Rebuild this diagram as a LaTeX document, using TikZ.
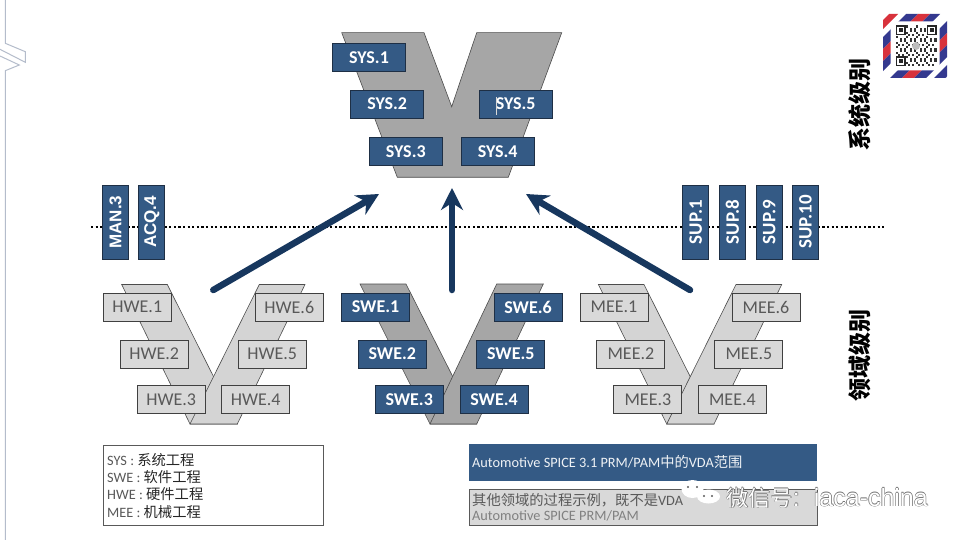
\documentclass[tikz,border=0pt]{standalone}
\usepackage{fontspec}
\setmainfont{Carlito}
\newfontfamily\cjk{Noto Sans CJK SC}
\newfontfamily\arialfont{Liberation Sans}
\usetikzlibrary{arrows.meta}

\definecolor{boxblue}{HTML}{345A85}
\definecolor{boxedge}{HTML}{1E2F45}
\definecolor{arrowblue}{HTML}{17375E}
\definecolor{vgray}{HTML}{A6A6A6}
\definecolor{vlight}{HTML}{D4D4D4}
\definecolor{boxlight}{HTML}{D9D9D9}
\definecolor{labelgray}{HTML}{595959}
\definecolor{edgegray}{HTML}{B4BCCB}
\definecolor{stampred}{HTML}{D8323C}
\definecolor{stampblue}{HTML}{34398F}

\begin{document}
\begin{tikzpicture}[x=1pt, y=-1pt]
    \tikzset{
        bluebox/.style={draw=boxedge, fill=boxblue, text=white, line width=0.9pt, inner sep=0pt,
            minimum height=28pt, font=\fontsize{18}{18}\selectfont\bfseries},
        graybox/.style={draw=black!75, fill=boxlight, text=labelgray, line width=0.9pt, inner sep=0pt,
            minimum width=68pt, minimum height=28pt, font=\fontsize{18}{18}\selectfont},
        upbox/.style={bluebox, minimum width=74pt, minimum height=26pt, rotate=90, font=\fontsize{19}{19}\selectfont\bfseries},
        bigarrow/.style={arrowblue, line width=6.5pt, line cap=round, -{Stealth[length=22pt, width=22pt]}},
        vshape/.style={draw=black!70, line width=0.6pt},
        sidelabel/.style={rotate=90, font=\fontsize{23}{23}\selectfont\cjk\bfseries},
        legendtext/.style={anchor=west, inner sep=0pt, text=labelgray, font=\fontsize{14.3}{14.3}\selectfont},
        wmark/.style={anchor=west, inner sep=0pt, font=\fontsize{25}{25}\selectfont\arialfont}
    }
    \useasboundingbox (0,0) rectangle (960,540);
    \fill[white] (0,0) rectangle (960,540);

    % left corner ornament
    \draw[edgegray, line width=1pt] (5.3,0) -- (5.3,43.3) -- (25.3,51.7) -- (25.3,62.3) -- (0,49.3);
    \draw[edgegray, line width=1pt] (0,56) -- (19.3,65) -- (5.3,70.7) -- (5.3,540);

    % dotted level line
    \coordinate (dotL) at (91,227.3);
    \coordinate (dotR) at (885,227.3);
    \draw[line width=2pt, dash pattern=on 2.2pt off 2.4pt] (dotL) -- (dotR);

    % system V
    \draw[vshape, fill=vgray] (341.7,32.7) -- (424,32.7) -- (451.7,106.7) -- (476.7,32.7) -- (561.7,32.7)
        -- (508.3,177.3) -- (397.3,177.3) -- cycle;
    \foreach \i/\cx/\cy in {1/369/57.5, 2/387.2/104, 3/405.8/151.5, 4/497.7/151.5, 5/515.7/104}
        \node[bluebox, minimum width=73pt] (sys\i) at (\cx,\cy) {SYS.\i};
    \coordinate (cursorT) at (496.7,97);
    \coordinate (cursorB) at (496.7,115);
    \draw[white!70!gray, line width=0.5pt] (cursorT) -- (cursorB);

    % software V
    \draw[vshape, fill=vgray] (360,284) -- (406,284) -- (476.7,424) -- (430,424) -- cycle;
    \draw[vshape, fill=vgray] (496.7,284) -- (543.3,284) -- (476.7,424) -- (430,424) -- cycle;
    \foreach \i/\cx/\cy in {1/375.5/307, 2/392.3/354, 3/409.2/399.3, 4/494/399.3, 5/510.8/354, 6/528/307}
        \node[bluebox, minimum width=68pt] (swe\i) at (\cx,\cy) {SWE.\i};

    % hardware and mechanical V
    \foreach \pre/\tag/\dx in {hwe/HWE/0, mee/MEE/476.7} {
        \draw[vshape, fill=vlight] (121.7+\dx,284.5) -- (167.3+\dx,284.5) -- (237.3+\dx,424) -- (190+\dx,424) -- cycle;
        \draw[vshape, fill=vlight] (259.3+\dx,284.5) -- (305+\dx,284.5) -- (237.3+\dx,424) -- (190+\dx,424) -- cycle;
        \foreach \i/\cx/\cy in {1/137.3/307.2, 2/154.2/354, 3/171.2/399.3, 4/255.7/399.3, 5/272.2/354, 6/289.3/307.2}
            \node[graybox] (\pre\i) at (\cx+\dx,\cy) {\tag.\i};
    }

    % process columns
    \node[upbox, font=\fontsize{17}{17}\selectfont\arialfont\bfseries] (man3) at (115.5,222) {MAN.3};
    \node[upbox, font=\fontsize{17}{17}\selectfont\arialfont\bfseries] (acq4) at (151.8,222) {ACQ.4};
    \node[upbox] (sup1) at (695.7,222) {SUP.1};
    \node[upbox] (sup8) at (732.3,222) {SUP.8};
    \node[upbox] (sup9) at (769.2,222) {SUP.9};
    \node[upbox] (sup10) at (805.5,222) {SUP.10};

    % arrows into the system V
    \coordinate (hweOut) at (213.3,290);
    \coordinate (sweOut) at (452,290);
    \coordinate (meeOut) at (690,290);
    \coordinate (sysInL) at (379,194);
    \coordinate (sysInM) at (452,188);
    \coordinate (sysInR) at (526,194);
    \draw[bigarrow] (hweOut) -- (sysInL);
    \draw[bigarrow] (sweOut) -- (sysInM);
    \draw[bigarrow] (meeOut) -- (sysInR);

    % side labels
    \node[sidelabel] (levelSys) at (860,105) {系统级别};
    \node[sidelabel] (levelDom) at (860,355) {领域级别};

    % legend
    \node[draw=black!65, line width=0.9pt, minimum width=219.6pt, minimum height=80.7pt, inner sep=0pt] (legend) at (213.5,485.3) {};
    \node[legendtext] (legSys) at (107,460) {SYS : {\cjk\color{black!85}系统工程}};
    \node[legendtext] (legSwe) at (107,477.3) {SWE : {\cjk\color{black!85}软件工程}};
    \node[legendtext] (legHwe) at (107,494.3) {HWE : {\cjk\color{black!85}硬件工程}};
    \node[legendtext] (legMee) at (107,511.7) {MEE : {\cjk\color{black!85}机械工程}};

    \node[fill=boxblue, minimum width=348pt, minimum height=36.7pt, inner sep=0pt] (vdaBox) at (643.3,462.3) {};
    \node[legendtext, text=white!92!boxblue] (vdaText) at (472,462.5) {Automotive SPICE 3.1 PRM/PAM{\cjk 中的}VDA{\cjk 范围}};
    \node[draw=black!65, fill=boxlight, line width=0.9pt, minimum width=348pt, minimum height=36.7pt, inner sep=0pt] (otherBox) at (643.3,507.3) {};
    \node[legendtext] (otherA) at (472,500) {{\cjk 其他领域的过程示例，既不是}VDA};
    \node[legendtext, text=black!50] (otherB) at (472,515.5) {Automotive SPICE PRM/PAM};

    % watermark
    \fill[white] (692.5,489) ellipse (11pt and 9pt);
    \fill[white] (708.5,496.5) ellipse (11.5pt and 7pt);
    \foreach \dotx/\doty in {688/487, 697/487, 704/496, 712/496}
        \fill[labelgray] (\dotx,\doty) circle (1.1pt);
    \foreach \k/\ox/\oy in {1/-0.6/0, 2/0.6/0, 3/0/-0.6, 4/0/0.6}
        \node[wmark, text=black!55] (wmarkB\k) at (726.7+\ox,498+\oy) {{\fontsize{22}{22}\selectfont\cjk 微信号}:\hspace{14pt}iaca-china};
    \node[wmark, text=white] (wmarkA) at (726.7,498) {{\fontsize{22}{22}\selectfont\cjk 微信号}:\hspace{14pt}iaca-china};

    % stamp with code
    \begin{scope}
        \clip[rounded corners=2pt] (883,14) rectangle (947,78);
        \foreach \sa/\sb/\col in {903/912/stampred, 920/932/stampblue, 932/944/stampred, 944/954/stampblue,
                968/980/stampblue, 980/992/stampred, 992/1004/stampblue, 1012/1025/stampblue}
            \fill[\col] (\sa-14,14) -- (\sb-14,14) -- (\sb-78,78) -- (\sa-78,78) -- cycle;
    \end{scope}
    \fill[white, rounded corners=2pt] (890.5,21.5) rectangle (939.5,70.5);
    \foreach \qx in {0,...,19} \foreach \qy in {0,...,19} {
        \pgfmathtruncatemacro{\qon}{mod(\qx*\qx*\qx+\qy*\qy*3+\qx*\qy*5+\qx*2+\qy,5)}
        \pgfmathtruncatemacro{\qskip}{(\qx<5 && \qy<5) || (\qx>14 && \qy<5) || (\qx<5 && \qy>14)}
        \ifnum\qskip=0 \ifnum\qon<2 \fill[black!80] (895.5+\qx*2.05,25.5+\qy*2.05) rectangle +(2.05,2.05); \fi \fi
    }
    \foreach \cx/\cy in {895.5/25.5, 926.5/25.5, 895.5/56.5} {
        \draw[black!85, line width=1.2pt] (\cx+0.6,\cy+0.6) rectangle (\cx+9.4,\cy+9.4);
        \fill[black!85] (\cx+3,\cy+3) rectangle (\cx+7,\cy+7);
    }
    \fill[black!25] (916,46) circle (4pt);
\end{tikzpicture}
\end{document}
